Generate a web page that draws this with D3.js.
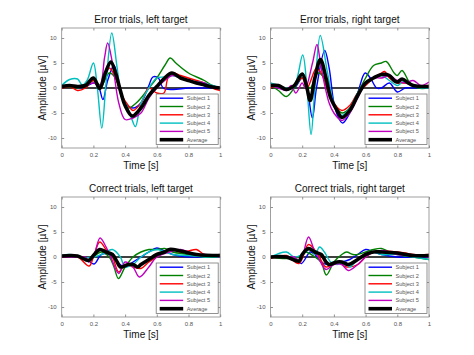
<!DOCTYPE html>
<html><head><meta charset="utf-8">
<script src="https://cdn.jsdelivr.net/npm/d3@7"></script>
<style>body{margin:0;background:#fff}svg{display:block}</style>
</head><body><div id="c"></div>
<script>
// ---------- DATA ----------
const panelTitles = ["Error trials, left target", "Error trials, right target", "Correct trials, left target", "Correct trials, right target"];
const seriesNames = ["Subject 1", "Subject 2", "Subject 3", "Subject 4", "Subject 5", "Average"];
const xTicks = [0, 0.2, 0.4, 0.6, 0.8, 1];
const xTickLabels = ["0", "0.2", "0.4", "0.6", "0.8", "1"];
const yTicks = [-10, -5, 0, 5, 10];
const yTickLabels = ["-10", "-5", "0", "5", "10"];

// Error trials, left target : [time s, amplitude uV]
const errLeftS1 = [[0,0.2],[0.05,0.3],[0.1,0],[0.15,0.3],[0.2,1],[0.23,0.5],[0.26,-2.3],[0.29,1.5],[0.33,4.5],[0.36,1],[0.4,-3],[0.45,-4],[0.5,-3],[0.55,0.5],[0.575,2.2],[0.61,2],[0.64,0],[0.7,-0.3],[0.8,0],[0.9,0],[1,0]];
const errLeftS2 = [[0,0.3],[0.05,0.2],[0.1,0],[0.15,0.5],[0.2,1.5],[0.25,0.5],[0.3,3],[0.34,2],[0.38,-2],[0.42,-4],[0.47,-3],[0.5,-2],[0.55,0],[0.6,2],[0.65,4.5],[0.685,6],[0.72,5],[0.8,3],[0.9,1.5],[0.95,0.5],[1,0]];
const errLeftS3 = [[0,0],[0.05,0.3],[0.1,-0.5],[0.15,0],[0.2,1.5],[0.24,0.3],[0.3,4],[0.34,2],[0.38,-1.5],[0.42,-3.5],[0.45,-4.5],[0.5,-3],[0.55,0],[0.6,-1],[0.645,-1],[0.67,2],[0.7,3],[0.75,2.5],[0.8,2],[0.85,1.5],[0.9,1],[0.95,0],[1,-0.5]];
const errLeftS4 = [[0,0.5],[0.05,1.7],[0.1,1.8],[0.13,0.6],[0.16,1.5],[0.2,5],[0.225,0],[0.253,-8],[0.28,1],[0.316,11],[0.35,4],[0.38,-2],[0.41,-3.5],[0.44,-6],[0.465,-7.7],[0.5,-3],[0.55,0],[0.6,2],[0.65,2.2],[0.7,2.5],[0.75,2],[0.8,1.5],[0.9,1],[0.95,0.5],[1,0]];
const errLeftS5 = [[0,0.3],[0.05,0.5],[0.1,0.3],[0.15,0.5],[0.2,1],[0.24,0.5],[0.27,6],[0.29,9],[0.32,5],[0.36,-3],[0.4,-6.3],[0.45,-6],[0.5,-5],[0.55,-2],[0.6,0],[0.65,1.5],[0.7,2.5],[0.75,2],[0.8,1.5],[0.85,1.2],[0.9,1],[0.95,0.2],[1,0]];
const errLeftAvg = [[0,0.3],[0.05,0.5],[0.1,0.3],[0.15,0.5],[0.2,2],[0.24,-0.1],[0.275,3],[0.31,5.2],[0.34,3],[0.37,-0.5],[0.4,-3.5],[0.445,-5.6],[0.5,-4],[0.55,-1.5],[0.6,0.3],[0.65,2],[0.695,3],[0.75,2],[0.8,1.5],[0.85,1],[0.9,0.6],[0.95,0.2],[1,0]];

// Error trials, right target
const errRightS1 = [[0,1],[0.05,0],[0.1,0],[0.15,0],[0.2,2],[0.23,0],[0.264,-6],[0.29,0],[0.342,7.5],[0.37,4],[0.4,-3],[0.43,-6],[0.455,-7],[0.5,-5],[0.55,-1],[0.597,3],[0.63,2],[0.67,0],[0.7,0],[0.75,1],[0.8,-0.8],[0.85,0],[0.9,0],[1,0]];
const errRightS2 = [[0,0.5],[0.05,-0.5],[0.1,-1.7],[0.15,0],[0.2,2],[0.25,0],[0.3,3],[0.34,2],[0.4,-3],[0.45,-5],[0.5,-4],[0.55,-1],[0.6,2],[0.65,4.5],[0.7,5],[0.73,5.3],[0.78,3],[0.8,2.5],[0.83,3.5],[0.88,1],[0.93,0],[1,0]];
const errRightS3 = [[0,0],[0.05,0.5],[0.1,0],[0.15,0.5],[0.2,2],[0.23,0],[0.29,4],[0.32,3],[0.38,-2],[0.45,-4.5],[0.5,-3.5],[0.55,-1],[0.6,0.5],[0.65,2],[0.7,3],[0.72,3.3],[0.75,2],[0.8,1],[0.85,1],[0.9,0.5],[1,0.5]];
const errRightS4 = [[0,1],[0.05,0.5],[0.1,0],[0.15,0.5],[0.203,6.6],[0.23,0],[0.256,-9.3],[0.28,0],[0.314,10.5],[0.36,3],[0.4,-3],[0.45,-5.5],[0.5,-4],[0.55,-1],[0.6,1],[0.65,2],[0.7,2.5],[0.75,1.5],[0.8,0.5],[0.85,1.5],[0.9,0.5],[0.95,0],[1,0]];
const errRightS5 = [[0,0.5],[0.05,0],[0.1,-0.5],[0.13,0.5],[0.16,-1],[0.2,1],[0.22,0],[0.265,5],[0.293,8.7],[0.32,4],[0.37,-3],[0.4,-5],[0.45,-6.5],[0.5,-5],[0.55,-2],[0.6,1],[0.65,2],[0.7,2],[0.75,2.5],[0.8,1.5],[0.85,1],[0.9,1.5],[0.95,0.5],[1,1.2]];
const errRightAvg = [[0,0.5],[0.05,0.5],[0.1,-0.3],[0.15,0.5],[0.2,2.8],[0.23,0],[0.25,-2.5],[0.28,2],[0.315,5.7],[0.35,2],[0.38,-2],[0.42,-4.5],[0.45,-5.9],[0.5,-4.5],[0.55,-1.5],[0.6,1],[0.65,2],[0.7,2.7],[0.75,2.5],[0.78,1.5],[0.8,1.2],[0.83,1.8],[0.87,1],[0.9,0.5],[0.95,0.3],[1,0.3]];

// Correct trials, left target
const corLeftS1 = [[0,0.2],[0.1,0],[0.15,-0.3],[0.204,-1.4],[0.25,0.5],[0.3,0.5],[0.35,-1],[0.4,-2],[0.45,-1],[0.5,0],[0.55,1],[0.6,1.8],[0.65,1.2],[0.7,0.5],[0.8,0],[0.9,0],[1,0]];
const corLeftS2 = [[0,0.2],[0.1,0],[0.17,-0.5],[0.2,0],[0.25,1],[0.3,0],[0.33,-2],[0.358,-4.3],[0.4,-2],[0.45,0],[0.5,1],[0.55,1.5],[0.6,1.5],[0.65,1.7],[0.7,1],[0.8,0.5],[0.9,0],[1,0]];
const corLeftS3 = [[0,0],[0.1,0],[0.173,-1.8],[0.2,0],[0.24,3],[0.28,1.5],[0.32,0],[0.36,-3],[0.4,-1.5],[0.45,-2],[0.5,-2.3],[0.55,-1],[0.6,0],[0.65,1],[0.7,1.5],[0.75,1],[0.8,1.2],[0.85,1.5],[0.9,0.5],[1,0.5]];
const corLeftS4 = [[0,0.3],[0.05,0.5],[0.1,0],[0.2,0],[0.25,0.5],[0.32,1.5],[0.37,0],[0.4,-2],[0.45,-1.5],[0.5,0],[0.55,1],[0.6,1.5],[0.65,1],[0.7,0.5],[0.8,0.3],[0.9,0],[1,0]];
const corLeftS5 = [[0,0],[0.1,0],[0.15,0],[0.17,-1],[0.2,0],[0.242,3.8],[0.28,2],[0.31,0],[0.36,-3.3],[0.4,-1],[0.45,-2],[0.49,-4],[0.55,-2],[0.6,0],[0.7,1.2],[0.75,1.5],[0.8,1],[0.85,0.5],[0.9,0.5],[1,0]];
const corLeftAvg = [[0,0.2],[0.1,0.2],[0.17,-0.7],[0.2,0.3],[0.24,1.5],[0.28,1],[0.32,0.5],[0.35,-1],[0.37,-2],[0.42,-1.5],[0.45,-1.5],[0.48,-2],[0.5,-1.5],[0.55,-0.5],[0.6,0.5],[0.65,1],[0.68,1.5],[0.75,1.2],[0.85,0.5],[1,0.3]];

// Correct trials, right target
const corRightS1 = [[0,0],[0.1,0],[0.15,-0.2],[0.195,-1.3],[0.25,1],[0.28,0.5],[0.32,-1],[0.36,-1.5],[0.4,-1],[0.45,-1],[0.5,-0.5],[0.55,0.5],[0.6,1.5],[0.65,1],[0.7,0.5],[0.8,0],[1,0]];
const corRightS2 = [[0,0],[0.1,-0.3],[0.18,0],[0.22,1],[0.28,0],[0.32,-1],[0.352,-3.6],[0.4,-1],[0.45,0.5],[0.48,1],[0.52,0.5],[0.55,0.5],[0.6,1],[0.65,1.5],[0.7,1.7],[0.75,1],[0.8,0.5],[0.9,0],[1,-0.5]];
const corRightS3 = [[0,-0.3],[0.1,0.3],[0.18,-1.3],[0.24,2.5],[0.3,0.5],[0.35,-2],[0.42,-1],[0.48,-2],[0.55,-1.5],[0.6,0],[0.65,1],[0.7,1.2],[0.8,1],[0.85,0.8],[0.9,0.5],[1,0.5]];
const corRightS4 = [[0,0],[0.1,1],[0.15,0],[0.2,0.5],[0.25,1.5],[0.28,0.5],[0.31,2],[0.34,1],[0.38,-1],[0.42,-1.5],[0.47,-1],[0.5,-2],[0.55,-0.5],[0.6,0.5],[0.65,1],[0.7,0.5],[0.8,0.5],[0.9,0],[1,-0.5]];
const corRightS5 = [[0,0],[0.1,0],[0.15,0],[0.18,-0.8],[0.2,0],[0.24,4],[0.28,1],[0.3,0],[0.35,-2.5],[0.4,-1.5],[0.45,-1.5],[0.49,-2.7],[0.55,-1.5],[0.6,0],[0.65,1],[0.7,1.3],[0.75,1],[0.8,0.5],[0.9,0.3],[1,0]];
const corRightAvg = [[0,0],[0.1,0],[0.18,-0.8],[0.2,0.5],[0.24,1.7],[0.28,1],[0.32,0.5],[0.35,-1],[0.37,-1.5],[0.42,-1],[0.45,-1],[0.49,-1.5],[0.55,-0.5],[0.6,0.5],[0.65,1],[0.7,1],[0.8,0.8],[0.9,0.3],[1,0.3]];

const panelSeries = [
  [errLeftS1, errLeftS2, errLeftS3, errLeftS4, errLeftS5, errLeftAvg],
  [errRightS1, errRightS2, errRightS3, errRightS4, errRightS5, errRightAvg],
  [corLeftS1, corLeftS2, corLeftS3, corLeftS4, corLeftS5, corLeftAvg],
  [corRightS1, corRightS2, corRightS3, corRightS4, corRightS5, corRightAvg]
];

// ---------- STYLE / LAYOUT ----------
const colors = ["#0000ff", "#008000", "#ff0000", "#00bfbf", "#bf00bf", "#000000"];
const widths = [1.4, 1.4, 1.4, 1.4, 1.4, 3.6];
const W = 474, H = 355;
const plotW = 158.5, plotH = 120;
const origins = [[61.7, 28], [270.5, 28], [61.7, 197], [270.5, 197]];
const font = "Liberation Sans, Arial, Helvetica, sans-serif";

const svg = d3.select("#c").append("svg").attr("width", W).attr("height", H);

panelSeries.forEach((series, pi) => {
  const [ox, oy] = origins[pi];
  const g = svg.append("g").attr("transform", `translate(${ox},${oy})`);
  const x = d3.scaleLinear().domain([0, 1]).range([0, plotW]);
  const y = d3.scaleLinear().domain([-12, 12]).range([plotH, 0]);

  g.append("rect").attr("width", plotW).attr("height", plotH).attr("fill", "#fff");

  const clipId = "clip" + pi;
  g.append("clipPath").attr("id", clipId).append("rect").attr("width", plotW).attr("height", plotH);

  // axes with inward ticks
  const axB = d3.axisBottom(x).tickValues(xTicks).tickFormat((d, i) => xTickLabels[i]).tickSizeInner(-2.5).tickSizeOuter(0).tickPadding(5);
  const axL = d3.axisLeft(y).tickValues(yTicks).tickFormat((d, i) => yTickLabels[i]).tickSizeInner(-2.5).tickSizeOuter(0).tickPadding(5);
  const axT = d3.axisTop(x).tickValues(xTicks).tickFormat("").tickSizeInner(-2.5).tickSizeOuter(0);
  const axR = d3.axisRight(y).tickValues(yTicks).tickFormat("").tickSizeInner(-2.5).tickSizeOuter(0);
  const styleAxis = sel => {
    sel.select(".domain").remove();
    sel.selectAll("line").attr("stroke", "#777").attr("stroke-width", 0.8);
    sel.selectAll("text").attr("fill", "#555").attr("font-size", 6).attr("font-family", font);
  };
  g.append("g").attr("transform", `translate(0,${plotH})`).call(axB).call(styleAxis);
  g.append("g").call(axL).call(styleAxis);
  g.append("g").call(axT).call(styleAxis);
  g.append("g").attr("transform", `translate(${plotW},0)`).call(axR).call(styleAxis);

  const plot = g.append("g").attr("clip-path", `url(#${clipId})`);
  // zero line
  plot.append("line").attr("x1", x(0)).attr("x2", x(1)).attr("y1", y(0)).attr("y2", y(0))
    .attr("stroke", "#000").attr("stroke-width", 1.3);

  const line = d3.line().x(d => x(d[0])).y(d => y(d[1])).curve(d3.curveCatmullRom.alpha(0.5));
  series.forEach((s, si) => {
    plot.append("path").datum(s).attr("d", line).attr("fill", "none")
      .attr("stroke", colors[si]).attr("stroke-width", widths[si]).attr("stroke-linejoin", "round");
  });

  // box
  g.append("rect").attr("width", plotW).attr("height", plotH).attr("fill", "none")
    .attr("stroke", "#888").attr("stroke-width", 0.8);

  // legend
  const lw = 62, lh = 50.5;
  const lx = plotW - 2 - lw, ly = plotH - 3.5 - lh;
  const lg = g.append("g").attr("transform", `translate(${lx},${ly})`);
  lg.append("rect").attr("width", lw).attr("height", lh).attr("fill", "#fff").attr("stroke", "#777").attr("stroke-width", 0.8);
  seriesNames.forEach((n, i) => {
    const yy = 4.2 + i * 8.3;
    lg.append("line").attr("x1", 3.5).attr("x2", 27).attr("y1", yy).attr("y2", yy)
      .attr("stroke", colors[i]).attr("stroke-width", widths[i]);
    lg.append("text").attr("x", 30.5).attr("y", yy + 2).text(n)
      .attr("font-size", 5.6).attr("fill", "#555").attr("font-family", font);
  });

  // title & labels
  g.append("text").attr("x", plotW / 2).attr("y", -5).attr("text-anchor", "middle")
    .attr("font-size", 10).attr("font-family", font).attr("fill", "#111").text(panelTitles[pi]);
  g.append("text").attr("x", plotW / 2).attr("y", plotH + 21).attr("text-anchor", "middle")
    .attr("font-size", 10).attr("font-family", font).attr("fill", "#111").text("Time [s]");
  g.append("text").attr("transform", `translate(-16,${plotH / 2}) rotate(-90)`).attr("text-anchor", "middle")
    .attr("font-size", 10).attr("font-family", font).attr("fill", "#111").text("Amplitude [\u00b5V]");
});
</script>
</body></html>
